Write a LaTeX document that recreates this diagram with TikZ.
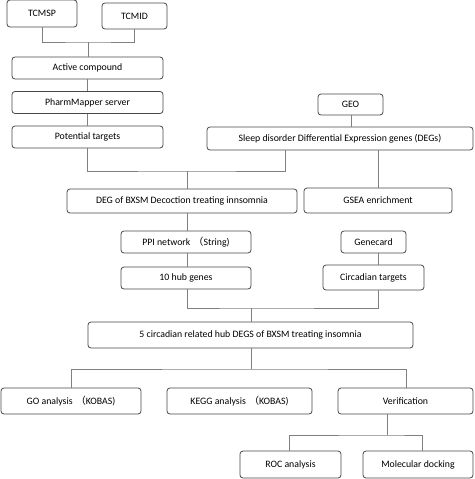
\documentclass[tikz,border=0pt]{standalone}
\usepackage{fontspec}
\setmainfont{Carlito}
\newfontfamily\cjk{Noto Sans CJK SC}
\begin{document}
\begin{tikzpicture}[x=1pt,y=-1pt,
  box/.style={draw=black!72, rounded corners=3pt, line width=0.8pt, inner sep=0pt,
    font=\fontsize{9.8}{12}\selectfont, text=black},
  conn/.style={draw=black!50, line width=0.7pt}]
\useasboundingbox (0,0) rectangle (474,479);
% nodes
\node[box, minimum width=70pt, minimum height=27pt] (tcmsp) at (42,13.5) {TCMSP};
\node[box, minimum width=65pt, minimum height=26pt] (tcmid) at (134.5,16) {TCMID};
\node[box, minimum width=151pt, minimum height=22pt] (active) at (87.5,68) {Active compound};
\node[box, minimum width=151pt, minimum height=22pt] (pharm) at (87.5,102.5) {PharmMapper server};
\node[box, minimum width=151pt, minimum height=22pt] (potential) at (87.5,137) {Potential targets};
\node[box, minimum width=65pt, minimum height=21pt] (geo) at (350.5,104.5) {GEO};
\node[box, minimum width=266pt, minimum height=23pt] (sleep) at (340,138.5) {Sleep disorder Differential Expression genes (DEGs)};
\node[box, minimum width=230pt, minimum height=24pt] (deg) at (182,201) {DEG of BXSM Decoction treating innsomnia};
\node[box, minimum width=148pt, minimum height=25pt] (gsea) at (378,200.5) {GSEA enrichment};
\node[box, minimum width=130pt, minimum height=22pt] (ppi) at (186,242) {PPI network\hspace{0.35em}{\cjk （}String)};
\node[box, minimum width=130pt, minimum height=22pt] (hub) at (186,278) {10 hub genes};
\node[box, minimum width=65pt, minimum height=22pt] (genecard) at (373.5,242) {Genecard};
\node[box, minimum width=101pt, minimum height=25pt] (circ) at (373.5,277.5) {Circadian targets};
\node[box, minimum width=325pt, minimum height=26pt] (five) at (250.5,335) {5 circadian related hub DEGS of BXSM treating insomnia};
\node[box, minimum width=140pt, minimum height=26pt] (go) at (71,401) {GO analysis\hspace{0.35em}{\cjk （}KOBAS)};
\node[box, minimum width=145pt, minimum height=26pt] (kegg) at (239.5,401) {KEGG analysis\hspace{0.35em}{\cjk （}KOBAS)};
\node[box, minimum width=135pt, minimum height=26pt] (verif) at (405.5,401) {Verification};
\node[box, minimum width=101pt, minimum height=27pt] (roc) at (290.5,464.5) {ROC analysis};
\node[box, minimum width=110pt, minimum height=27pt] (mol) at (418,464.5) {Molecular docking};
% junction coordinates
\coordinate (m1) at (88,42);
\coordinate (m2) at (187,171);
\coordinate (xs) at (285,0);
\coordinate (xg) at (378,0);
\coordinate (m3) at (251,308);
\coordinate (m4) at (251,369);
\coordinate (xv) at (406,0);
\coordinate (m5) at (387,435);
\coordinate (xm) at (422,0);
\coordinate (xr) at (289,0);
% connectors
\draw[conn] (tcmsp.south) |- (m1) -| (tcmid.south);
\draw[conn] (m1) -- (m1 |- active.north);
\draw[conn] (active) -- (pharm);
\draw[conn] (pharm) -- (potential);
\draw[conn] (geo.south -| 351,0) -- (sleep.north -| 351,0);
\draw[conn] (potential.south) |- (m2) -| (xs |- sleep.south);
\draw[conn] (m2) -- (m2 |- deg.north);
\draw[conn] (m2 |- deg.south) -- (m2 |- ppi.north);
\draw[conn] (m2 |- ppi.south) -- (m2 |- hub.north);
\draw[conn] (xg |- sleep.south) -- (xg |- gsea.north);
\draw[conn] (xg |- genecard.south) -- (xg |- circ.north);
\draw[conn] (m2 |- hub.south) |- (m3) -| (xg |- circ.south);
\draw[conn] (m3) -- (m3 |- five.north);
\draw[conn] (m4 |- five.south) -- (m4);
\draw[conn] (go.north) |- (m4) -| (xv |- verif.north);
\draw[conn] (m5 |- verif.south) -- (m5);
\draw[conn] (xr |- roc.north) |- (m5) -| (xm |- mol.north);
\end{tikzpicture}
\end{document}
